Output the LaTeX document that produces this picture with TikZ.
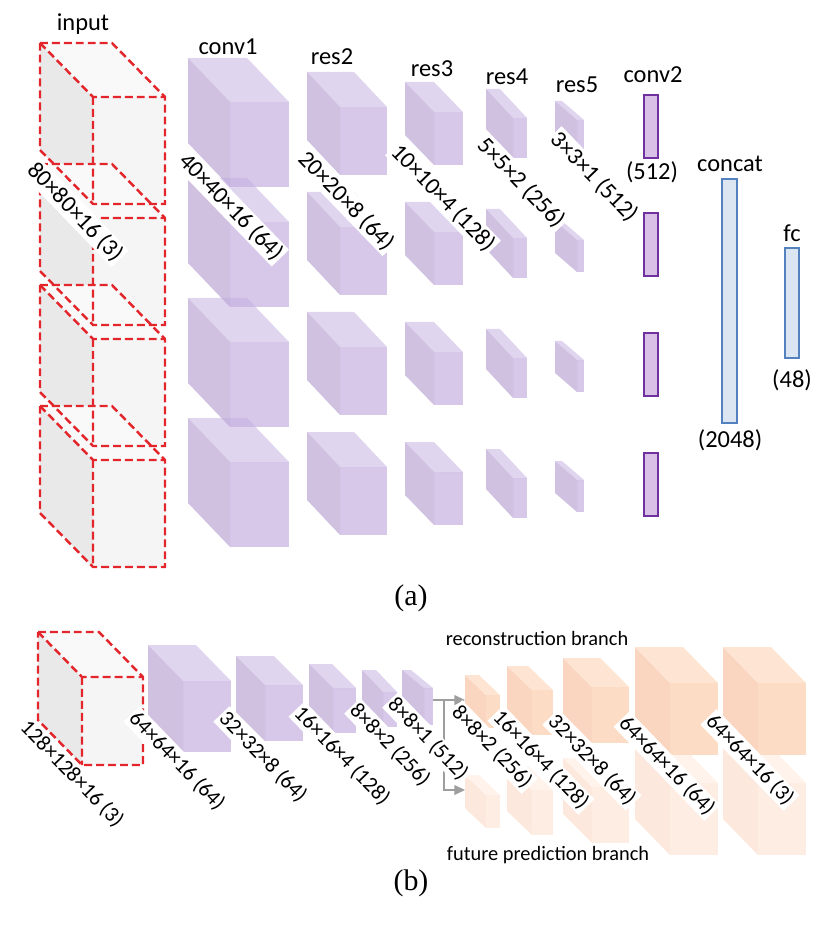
\documentclass[tikz,border=0pt]{standalone}
\usepackage{fontspec}
\newfontfamily\lblfont{Carlito}
\newfontfamily\capfont{Liberation Serif}
\usetikzlibrary{arrows.meta}

\definecolor{pufront}{RGB}{175,145,211}
\definecolor{putop}{RGB}{193,171,223}
\definecolor{puside}{RGB}{161,131,195}
\definecolor{orfront}{RGB}{253,220,197}
\definecolor{ortop}{RGB}{254,229,211}
\definecolor{orside}{RGB}{250,214,193}
\definecolor{lofront}{RGB}{254,237,226}
\definecolor{lotop}{RGB}{255,243,235}
\definecolor{loside}{RGB}{252,232,221}
\definecolor{grfront}{RGB}{246,245,246}
\definecolor{grtop}{RGB}{249,249,249}
\definecolor{grside}{RGB}{233,233,233}
\definecolor{dashred}{RGB}{226,38,44}
\definecolor{convfill}{RGB}{216,192,230}
\definecolor{convline}{RGB}{112,48,160}
\definecolor{catfill}{RGB}{220,230,242}
\definecolor{catline}{RGB}{84,130,190}

\tikzstyle{pu front}=[fill=pufront,fill opacity=.5]
\tikzstyle{pu top}=[fill=putop,fill opacity=.5]
\tikzstyle{pu side}=[fill=puside,fill opacity=.5]
\tikzstyle{or front}=[fill=orfront]
\tikzstyle{or top}=[fill=ortop]
\tikzstyle{or side}=[fill=orside]
\tikzstyle{lo front}=[fill=lofront]
\tikzstyle{lo top}=[fill=lotop]
\tikzstyle{lo side}=[fill=loside]
\tikzstyle{gr front}=[fill=grfront]
\tikzstyle{gr top}=[fill=grtop]
\tikzstyle{gr side}=[fill=grside]
\tikzstyle{in edge}=[draw=dashred,dash pattern=on 4.5pt off 2.3pt,line width=1.4pt]
\tikzstyle{title}=[font=\lblfont\fontsize{13.9}{16}\selectfont,inner sep=0pt]
\tikzstyle{dim}=[font=\lblfont\fontsize{13.4}{16}\selectfont,rotate=-46,fill=white,inner sep=1pt]
\tikzstyle{dimb}=[dim,font=\lblfont\fontsize{12.3}{15}\selectfont]
\tikzstyle{note}=[font=\lblfont\fontsize{11.6}{14}\selectfont,inner sep=0pt]
\tikzstyle{conv box}=[draw=convline,fill=convfill,line width=.9pt,minimum width=0.28cm,minimum height=1.26cm,inner sep=0pt]
\tikzstyle{cat box}=[draw=catline,fill=catfill,line width=.9pt,minimum width=0.29cm,inner sep=0pt]
\tikzstyle{branch}=[draw=black!38,line width=.7pt,-{Triangle[length=6pt,width=5.5pt]}]

% name, front x, front y, width, height, depth x, depth y, colour set
\newcommand{\blockbox}[8]{%
  \fill[#8 side] (#2-#6,#3-#7) -- (#2,#3) -- (#2,#3+#5) -- (#2-#6,#3+#5-#7) -- cycle;
  \fill[#8 top] (#2-#6,#3-#7) -- (#2-#6+#4,#3-#7) -- (#2+#4,#3) -- (#2,#3) -- cycle;
  \fill[#8 front] (#2,#3) rectangle (#2+#4,#3+#5);
  \coordinate (#1-e) at (#2+#4,#3+#5/2);
}
% dashed outline of an input block
\newcommand{\cubeedge}[6]{%
  \draw[in edge] (#1-#5,#2-#6) -- (#1-#5+#3,#2-#6) -- (#1+#3,#2) -- (#1+#3,#2+#4)
    -- (#1,#2+#4) -- (#1-#5,#2+#4-#6) -- cycle;
  \draw[in edge] (#1-#5,#2-#6) -- (#1,#2) -- (#1+#3,#2) (#1,#2) -- (#1,#2+#4);
}

\begin{document}
\begin{tikzpicture}[x=0.02cm,y=-0.02cm]
  \useasboundingbox (0,0) rectangle (832,925);

  % (a) input clips
  \foreach \k in {0,...,3}{
    \blockbox{in\k}{93}{97+121*\k}{72}{107}{53}{54}{gr}
  }
  \foreach \k in {0,...,3}{
    \cubeedge{93}{97+121*\k}{72}{107}{53}{54}
  }

  % (a) conv1 ... res5
  \foreach \fx/\fy/\w/\h/\dx/\dy [count=\c] in {230/102/59/85/42/44, 340/107/47/68/33/35,
      434/112/29/53/29/30, 513/118/14/40/27/29, 577/120/7/32/22/19}{
    \foreach \r in {0,...,3}{
      \blockbox{a\c\r}{\fx}{\fy+120*\r}{\w}{\h}{\dx}{\dy}{pu}
    }
  }

  \foreach \y [count=\r] in {126.5,244.5,364.5,484.5}{
    \node[conv box] (conv\r) at (651,\y) {};
  }
  \node[cat box,minimum height=4.88cm] (concat) at (729.5,301) {};
  \node[cat box,minimum height=2.2cm] (fc) at (792,303) {};

  \node[title] (t0) at (83,24) {input};
  \node[title] (t1) at (228,47) {conv1};
  \node[title] (t2) at (332,57) {res2};
  \node[title] (t3) at (432,69) {res3};
  \node[title] (t4) at (507,77) {res4};
  \node[title] (t5) at (577,85) {res5};
  \node[title] (t6) at (653,75) {conv2};
  \node[title] (t7) at (652,172) {(512)};
  \node[title] (t8) at (730,164) {concat};
  \node[title] (t9) at (730,440) {(2048)};
  \node[title] (t10) at (792,233) {fc};
  \node[title] (t11) at (792,380) {(48)};

  \node[dim] (d0) at (75,212) {80×80×16 (3)};
  \node[dim] (d1) at (231,207) {40×40×16 (64)};
  \node[dim] (d2) at (346,201) {20×20×8 (64)};
  \node[dim] (d3) at (443,198) {10×10×4 (128)};
  \node[dim] (d4) at (521,183) {5×5×2 (256)};
  \node[dim] (d5) at (594,177) {3×3×1 (512)};

  \node[font=\capfont\fontsize{17}{20}\selectfont] (capa) at (411,598) {(a)};

  % (b) encoder
  \blockbox{bin}{82}{677}{61}{88}{44}{45}{gr}
  \cubeedge{82}{677}{61}{88}{44}{45}
  \foreach \fx/\fy/\w/\h/\dx/\dy [count=\c] in {183/681/48/71/35/36, 265/685/38/56/29/29,
      333/688/23/45/24/24, 383/692/14/35/21/22, 424/688/9/37/22/18}{
    \blockbox{p\c}{\fx}{\fy}{\w}{\h}{\dx}{\dy}{pu}
  }

  % (b) two decoder branches
  \foreach \fx/\fy/\w/\h/\dx/\dy [count=\c] in {486/695/14/33/21/20, 532/690/21/45/25/24,
      592/687/37/56/29/29, 670/683/48/72/35/36, 758/683/48/72/35/36}{
    \blockbox{f\c}{\fx}{\fy+100}{\w}{\h}{\dx}{\dy}{lo}
    \blockbox{r\c}{\fx}{\fy}{\w}{\h}{\dx}{\dy}{or}
  }

  \coordinate (split) at (444,700);
  \coordinate (up) at (465,700);
  \coordinate (down) at (465,790);
  \draw[branch] (split -| p5-e) -- (up);
  \draw[branch] (split) |- (down);

  \node[dimb] (e1) at (72,774) {128×128×16 (3)};
  \node[dimb] (e2) at (177,761) {64×64×16 (64)};
  \node[dimb] (e3) at (263,757) {32×32×8 (64)};
  \node[dimb] (e4) at (342,756) {16×16×4 (128)};
  \node[dimb] (e5) at (390,745) {8×8×2 (256)};
  \node[dimb] (e6) at (428,739) {8×8×1 (512)};
  \node[dimb] (g1) at (492,747) {8×8×2 (256)};
  \node[dimb] (g2) at (541,760) {16×16×4 (128)};
  \node[dimb] (g3) at (592,760) {32×32×8 (64)};
  \node[dimb] (g4) at (667,766) {64×64×16 (64)};
  \node[dimb] (g5) at (750,760) {64×64×16 (3)};

  \node[note] (rec) at (537,638) {reconstruction branch};
  \node[note] (fut) at (548,855) {future prediction branch};

  \node[font=\capfont\fontsize{17}{20}\selectfont] (capb) at (411,883) {(b)};
\end{tikzpicture}
\end{document}
